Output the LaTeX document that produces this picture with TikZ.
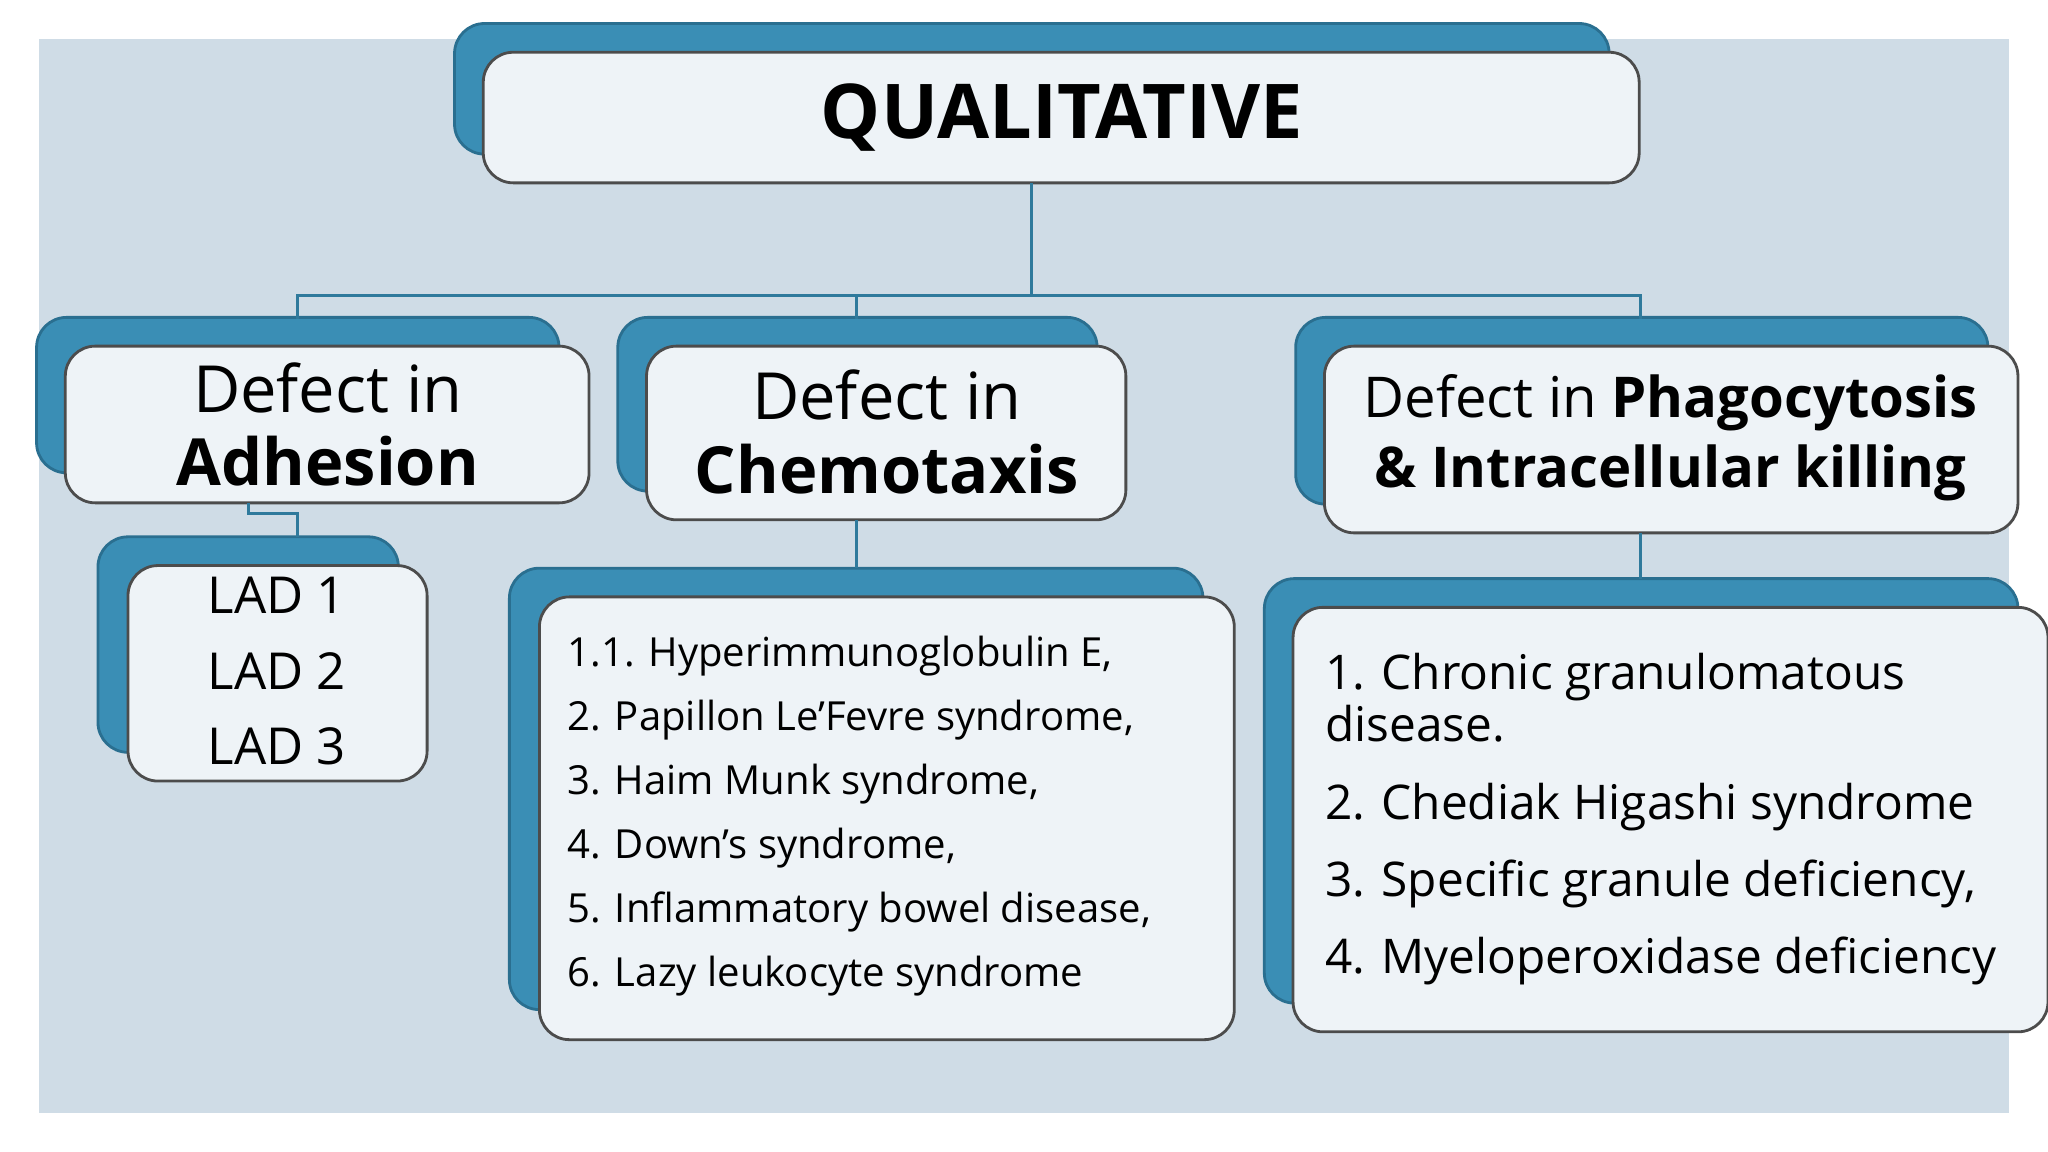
\documentclass[tikz,border=0pt]{standalone}
\usepackage{fontspec}
\setmainfont{Open Sans}
\usetikzlibrary{positioning}
\definecolor{bgblue}{HTML}{CFDCE6}
\definecolor{tabblue}{HTML}{3A8EB5}
\definecolor{tabdark}{HTML}{2A6F90}
\definecolor{cardfill}{HTML}{EEF3F7}
\definecolor{linkblue}{HTML}{2F7A9C}
\begin{document}
\begin{tikzpicture}[x=0.0130612cm,y=-0.0130612cm,
    back box/.style={draw=tabdark,fill=tabblue,rounded corners=3mm,thick},
    front box/.style={draw=black!70,fill=cardfill,rounded corners=3mm,thick},
    link/.style={draw=linkblue,thick},
    list text/.style={anchor=west,align=left}]
  \useasboundingbox (0,0) rectangle (1568,882);
  \fill[bgblue] (30,30) rectangle (1538,852);

  % top
  \draw[back box] (348,18) rectangle (1232,118);
  \draw[front box] (370,40) rectangle (1255,140);
  \node[font=\fontsize{21.5}{26}\selectfont\bfseries] (top) at (813,90) {QUALITATIVE};

  % level 2
  \draw[back box] (28,243) rectangle (428,362);
  \draw[front box] (50,265) rectangle (451,385);
  \node[align=center,font=\fontsize{18.5}{21}\selectfont] (adhesion) at (251,325)
    {Defect in\\\textbf{Adhesion}};

  \draw[back box] (473,243) rectangle (840,376);
  \draw[front box] (495,265) rectangle (862,398);
  \node[align=center,font=\fontsize{18.5}{21}\selectfont] (chemo) at (679,331)
    {Defect in\\\textbf{Chemotaxis}};

  \draw[back box] (992,243) rectangle (1522,386);
  \draw[front box] (1014,265) rectangle (1545,408);
  \node[align=center,font=\fontsize{16}{20}\selectfont] (phago) at (1279,335)
    {Defect in \textbf{Phagocytosis}\\\textbf{\& Intracellular killing}};

  % level 3
  \draw[back box] (75,411) rectangle (305,576);
  \draw[front box] (98,433) rectangle (327,598);
  \node[align=left,font=\fontsize{14.5}{21.5}\selectfont] (lad) at (212,514)
    {LAD 1\\LAD 2\\LAD 3};

  \draw[back box] (390,435) rectangle (921,773);
  \draw[front box] (413,457) rectangle (945,796);
  \node[list text,font=\fontsize{11.4}{18.2}\selectfont] (chemolist) at (425,625)
    {1.1. Hyperimmunoglobulin E,\\
     2. Papillon Le’Fevre syndrome,\\3. Haim Munk syndrome,\\
     4. Down’s syndrome,\\5. Inflammatory bowel disease,\\6. Lazy leukocyte syndrome};

  \draw[back box] (968,443) rectangle (1545,768);
  \draw[front box] (990,465) rectangle (1568,790);
  \node[list text,font=\fontsize{13.6}{15}\selectfont] (phagolist) at (1005,627)
    {1. Chronic granulomatous\\disease.\\[7pt]
     2. Chediak Higashi syndrome\\[7pt]3. Specific granule deficiency,\\[7pt]
     4. Myeloperoxidase deficiency};

  % links
  \coordinate (hub) at (790,226);
  \draw[link] (790,140) -- (hub);
  \draw[link] (228,244) |- (1256,226) -- (1256,244);
  \draw[link] (656,226) -- (656,244);
  \draw[link] (190,385) -- (190,393) -| (228,411);
  \draw[link] (656,398) -- (656,435);
  \draw[link] (1256,408) -- (1256,443);
\end{tikzpicture}
\end{document}
